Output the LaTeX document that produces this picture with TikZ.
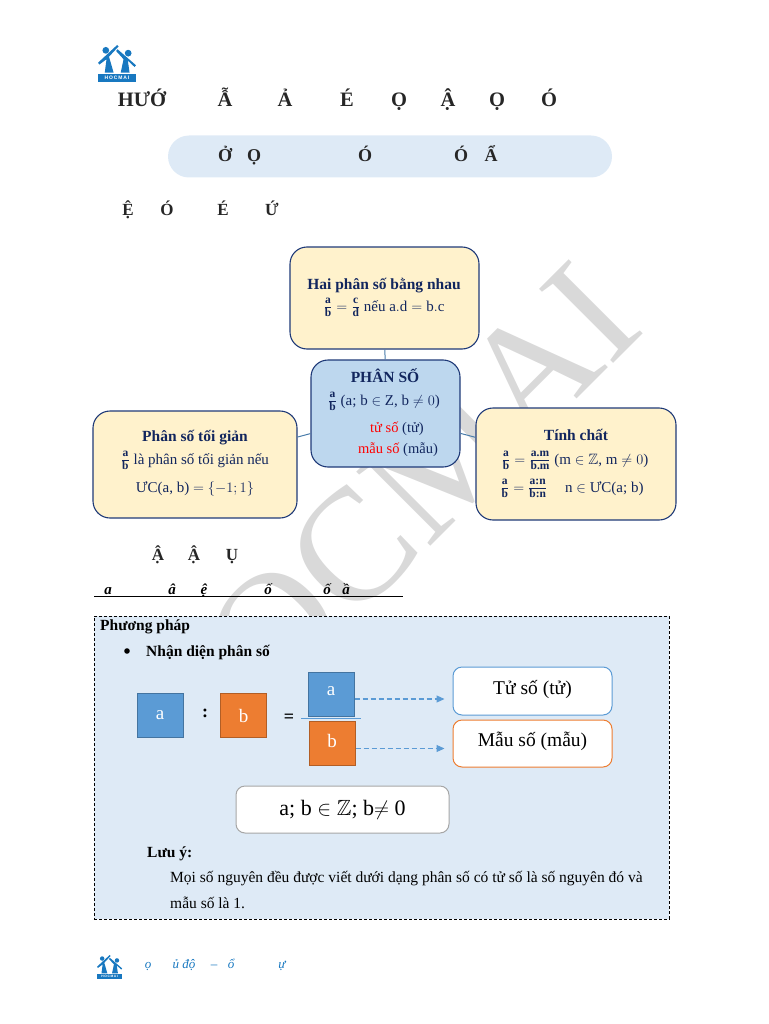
\documentclass[tikz,border=0pt]{standalone}
\usepackage{amssymb}
\usepackage{fontspec}
\setmainfont{Liberation Serif}
\newfontfamily\logofont[LetterSpace=18]{Liberation Sans}
\usetikzlibrary{arrows.meta}
\definecolor{navy}{HTML}{12265E}
\definecolor{navyline}{HTML}{1F3A78}
\definecolor{paleblue}{HTML}{DEEAF6}
\definecolor{cream}{HTML}{FFF2CC}
\definecolor{midblue}{HTML}{BDD7EE}
\definecolor{squareblue}{HTML}{5B9BD5}
\definecolor{squareorange}{HTML}{ED7D31}
\definecolor{logoblue}{HTML}{1878C0}
\newcommand{\fracpart}[1]{\mbox{\rule[-3.5pt]{0pt}{10pt}\fontsize{11.5}{11.5}\selectfont\bfseries #1}}
\newcommand{\mfrac}[2]{\frac{\fracpart{#1}}{\fracpart{#2}}}
\tikzset{
  logo/.pic={
    \fill[logoblue] (0,50) -- (54,0) -- (58,4) -- (31,33) -- (44,78) -- (19,78) -- (24,40) -- (4,55) -- cycle;
    \fill[logoblue] (22,15) circle (9.5);
    \fill[logoblue] (55,12) -- (107,57) -- (103,62) -- (84,44) -- (89,78) -- (64,78) -- (72,40) -- (51,17) -- cycle;
    \fill[logoblue] (85,23) circle (9.5);
    \node[fill=logoblue, text=white, font=\logofont\bfseries\fontsize{14}{14}\selectfont, transform shape,
      minimum width=107pt, minimum height=22pt, inner sep=0pt] (-band) at (53.5,93) {HOCMAI};
  }
}
\begin{document}
\begin{tikzpicture}[
    x=1pt, y=-1pt,
    every node/.style={inner sep=0pt},
    heading/.style={anchor=base, font=\bfseries\fontsize{20.5}{22}\selectfont, text=black!85},
    pillhead/.style={anchor=base, font=\bfseries\fontsize{18}{20}\selectfont, text=black!85},
    subheading/.style={anchor=base, font=\bfseries\fontsize{17}{18}\selectfont, text=black!85},
    fragment/.style={anchor=base, font=\bfseries\itshape\fontsize{15}{18}\selectfont},
    footnote/.style={anchor=base, font=\itshape\fontsize{13}{14}\selectfont, text=logoblue},
    body/.style={font=\fontsize{15.5}{18}\selectfont, anchor=base west},
    bodybold/.style={font=\bfseries\fontsize{15.5}{18}\selectfont, anchor=base west},
    mapbox/.style={draw=navyline, line width=1.1pt, rounded corners=17pt, fill=cream},
    maptitle/.style={anchor=base, font=\bfseries\fontsize{15.5}{18}\selectfont, text=navy},
    mapline/.style={anchor=base, font=\fontsize{15}{18}\selectfont, text=navy},
    link/.style={draw=squareblue!80!black, line width=1pt},
    square/.style={minimum width=46pt, minimum height=44pt, text=white, line width=1pt, font=\fontsize{19}{20}\selectfont},
    tag/.style={draw, fill=white, rounded corners=9pt, line width=1pt, font=\fontsize{19.5}{22}\selectfont},
    dasharrow/.style={draw=squareblue, dash pattern=on 5pt off 3pt, line width=1.1pt, -{Triangle[length=8pt,width=7pt]}},
]
  \useasboundingbox (0,0) rectangle (768,1024);

  % Watermark
  \node[rotate=45, text=black!15, font=\fontsize{160}{160}\selectfont] (mark) at (381,522) {HOCMAI};

  % Logo
  \pic (logotop) at (98,45) [scale=0.355] {logo};

  % Headings
  \foreach \px/\ch [count=\i] in {142/HƯỚ,225/Ẫ,285/Ả,347/É,399/Ọ,448/Ậ,497/Ọ,549/Ó} {
    \node[heading] (head\i) at (\px,106.5) {\ch};
  }
  \node[fill=paleblue, rounded corners=21pt, minimum width=444pt, minimum height=42pt] (pill) at (390,156.5) {};
  \foreach \px/\ch [count=\i] in {225/Ở,254/Ọ,365/Ó,461/Ó,491/Ẩ} {
    \node[pillhead] (pillch\i) at (\px,162) {\ch};
  }
  \foreach \px/\ch [count=\i] in {128/Ệ,167/Ó,223/É,272/Ứ} {
    \node[subheading] (sec\i) at (\px,215) {\ch};
  }
  \foreach \px/\ch [count=\i] in {158/Ậ,194/Ậ,232/Ụ} {
    \node[subheading] (app\i) at (\px,560) {\ch};
  }
  \foreach \px/\ch [count=\i] in {108/a,172/â,204/ệ,268/ố,327/ố,346/ầ} {
    \node[fragment] (frag\i) at (\px,594.5) {\ch};
  }
  \coordinate (rulel) at (94,596.5);
  \coordinate (ruler) at (403,596.5);
  \draw[line width=1.9pt] (rulel) -- (ruler);

  % Concept map
  \node[mapbox, minimum width=189pt, minimum height=102pt] (equal) at (384.5,298) {};
  \node[mapbox, minimum width=204pt, minimum height=107pt] (reduced) at (195,464.5) {};
  \node[mapbox, minimum width=200pt, minimum height=112pt] (rules) at (576,464) {};
  \node[mapbox, fill=midblue, minimum width=149pt, minimum height=107pt] (fraction) at (385.5,413.5) {};
  \draw[link] (fraction) -- (equal);
  \draw[link] (fraction) -- (reduced);
  \draw[link] (fraction) -- (rules);

  \node[maptitle] (equalt) at (384,289) {Hai phân số bằng nhau};
  \node[mapline] (equal1) at (384,311) {$\mfrac{a}{b}=\mfrac{c}{d}$ nếu $\mathrm{a.d}=\mathrm{b.c}$};

  \node[maptitle] (fractiont) at (385,382) {PHÂN SỐ};
  \node[mapline] (fraction1) at (384,405) {$\mfrac{a}{b}$ (a; b $\in$ Z, b $\neq 0$)};
  \node[mapline, font=\fontsize{14.5}{18}\selectfont] (fraction2) at (397,432) {\textcolor{red}{tử số} (tử)};
  \node[mapline, font=\fontsize{14.5}{18}\selectfont] (fraction3) at (398,453) {\textcolor{red}{mẫu số} (mẫu)};

  \node[maptitle] (reducedt) at (195,441) {Phân số tối giản};
  \node[mapline] (reduced1) at (195,464) {$\mfrac{a}{b}$ là phân số tối giản nếu};
  \node[mapline] (reduced2) at (195,492) {ƯC(a, b) $=\{-1;1\}$};

  \node[maptitle] (rulest) at (576,440) {Tính chất};
  \node[mapline] (rules1) at (575,464) {$\mfrac{a}{b}=\mfrac{a.m}{b.m}$ (m $\in\mathbb{Z}$, m $\neq 0$)};
  \node[mapline] (rules2) at (572,492) {$\mfrac{a}{b}=\mfrac{a:n}{b:n}$\hspace{18pt}n $\in$ ƯC(a; b)};

  % Method panel
  \node[draw, densely dashed, fill=paleblue, minimum width=575pt, minimum height=303pt] (panel) at (381.5,767.5) {};
  \node[bodybold] (method) at (100,630) {Phương pháp};
  \fill (127,651) circle (2.8);
  \node[bodybold] (bullet) at (146,656) {Nhận diện phân số};

  \node[square, fill=squareblue, draw=squareblue!75!black] (a1) at (160,715.5) {a};
  \node[font=\bfseries\fontsize{18}{20}\selectfont] (colon) at (205,713) {:};
  \node[square, fill=squareorange, draw=squareorange!75!black] (b1) at (243.5,715.5) {b};
  \node[font=\bfseries\fontsize{18}{20}\selectfont] (equals) at (289,718) {=};
  \node[square, fill=squareblue, draw=squareblue!75!black] (a2) at (331,694) {\raisebox{6pt}{a}};
  \node[square, fill=squareorange, draw=squareorange!75!black] (b2) at (332,743.5) {\raisebox{6pt}{b}};
  \coordinate (barl) at (301,718.5);
  \coordinate (barr) at (361,718.5);
  \draw[draw=squareblue, line width=1.4pt] (barl) -- (barr);

  \node[tag, draw=squareblue, minimum width=159pt, minimum height=48pt] (num) at (532.5,691) {\raisebox{7pt}{Tử số (tử)}};
  \node[tag, draw=squareorange, minimum width=159pt, minimum height=47pt] (den) at (532.5,743.5) {\raisebox{8pt}{Mẫu số (mẫu)}};
  \draw[dasharrow] ([yshift=-5pt]a2.east) -- ([xshift=-8pt,yshift=-8pt]num.west);
  \draw[dasharrow] ([yshift=-5pt]b2.east) -- ([xshift=-8pt,yshift=-5pt]den.west);

  \node[tag, draw=black!35, minimum width=213pt, minimum height=47pt, font=\fontsize{22}{24}\selectfont] (cond) at (342.5,809.5) {a; b $\in\mathbb{Z}$; b$\neq$ 0};

  \node[bodybold] (note) at (147,857) {Lưu ý:};
  \node[body] (note1) at (170,882) {Mọi số nguyên đều được viết dưới dạng phân số có tử số là số nguyên đó và};
  \node[body] (note2) at (170,908) {mẫu số là 1.};

  % Footer
  \pic (logobottom) at (97,955) [scale=0.235] {logo};
  \foreach \px/\ch [count=\i] in {148/ọ,184/ủ độ,214/–,231/ổ,282/ự} {
    \node[footnote] (foot\i) at (\px,968) {\ch};
  }
\end{tikzpicture}
\end{document}
